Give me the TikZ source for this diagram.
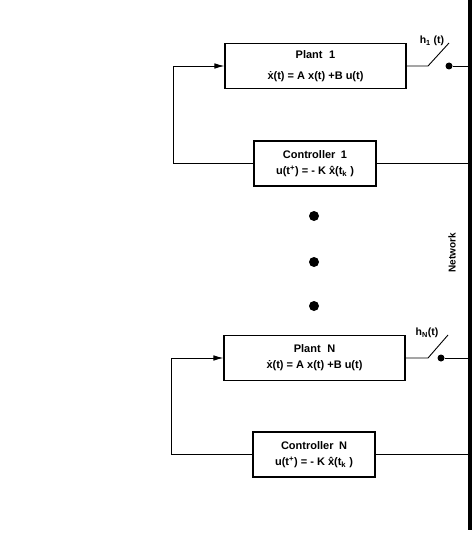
\documentclass[tikz,border=0pt]{standalone}
\usepackage{fontspec}
\setmainfont{Liberation Sans}
\usetikzlibrary{arrows.meta}
\begin{document}
\begin{tikzpicture}[x=1pt,y=-1pt,
  box/.style={draw, line width=1.1pt, minimum height=45pt, align=center,
    font=\fontsize{11}{16}\selectfont\bfseries, inner sep=0pt},
  plantbox/.style={box, minimum width=181pt},
  ctrlbox/.style={box, minimum width=122pt},
  wire/.style={line width=0.9pt},
  feed/.style={wire, -{Latex[length=10pt,width=5.5pt]}},
  bigdot/.style={circle, fill, inner sep=0pt, minimum size=10pt},
  jdot/.style={circle, fill, inner sep=0pt, minimum size=7pt},
  lbl/.style={font=\fontsize{10.5}{12}\selectfont\bfseries, inner sep=0pt},
  netbar/.style={line width=3.5pt}]
\useasboundingbox (0,0) rectangle (474,540);

% network bar
\coordinate (netTop) at (470,0);
\coordinate (netBot) at (470,530);
\draw[netbar] (netTop) -- (netBot);
\node[lbl, font=\fontsize{10}{12}\selectfont\bfseries, rotate=90] (net) at (452,253) {Network};

% loop 1
\node[plantbox] (p1) at (315.5,66) {Plant\hspace{0.6em}1\\[5pt] \.x(t) = A x(t) +B u(t)};
\node[ctrlbox] (c1) at (315,163.5) {Controller\hspace{0.5em}1\\ u(t\textsuperscript{+}) = - K \^x(t\textsubscript{k} )};
\coordinate (f1) at (173,163.5);
\draw[wire] (c1.west) -- (f1);
\draw[feed] (f1) |- (p1.west);
\draw[wire] (c1.east) -- (c1.east -| netTop);
\coordinate (s1a) at (428,66);
\coordinate (s1b) at (449,43);
\node[jdot] (d1) at (449,66) {};
\draw[wire] (p1.east) -- (s1a) -- (s1b);
\draw[wire] (d1) -- (d1 -| netTop);
\node[lbl] (h1) at (432,41) {h\textsubscript{1} (t)};

% dots
\node[bigdot] (m1) at (314,216) {};
\node[bigdot] (m2) at (314,262) {};
\node[bigdot] (m3) at (314,306) {};

% loop N
\node[plantbox] (pN) at (314.5,358) {Plant\hspace{0.6em}N\\ \.x(t) = A x(t) +B u(t)};
\node[ctrlbox] (cN) at (314,454.5) {Controller\hspace{0.5em}N\\ u(t\textsuperscript{+}) = - K \^x(t\textsubscript{k} )};
\coordinate (fN) at (171,454.5);
\draw[wire] (cN.west) -- (fN);
\draw[feed] (fN) |- (pN.west);
\draw[wire] (cN.east) -- (cN.east -| netTop);
\coordinate (sNa) at (428,358);
\coordinate (sNb) at (448,335);
\node[jdot] (dN) at (441,358) {};
\draw[wire] (pN.east) -- (sNa) -- (sNb);
\draw[wire] (dN) -- (dN -| netTop);
\node[lbl] (hN) at (427,333) {h\textsubscript{N}(t)};
\end{tikzpicture}
\end{document}
